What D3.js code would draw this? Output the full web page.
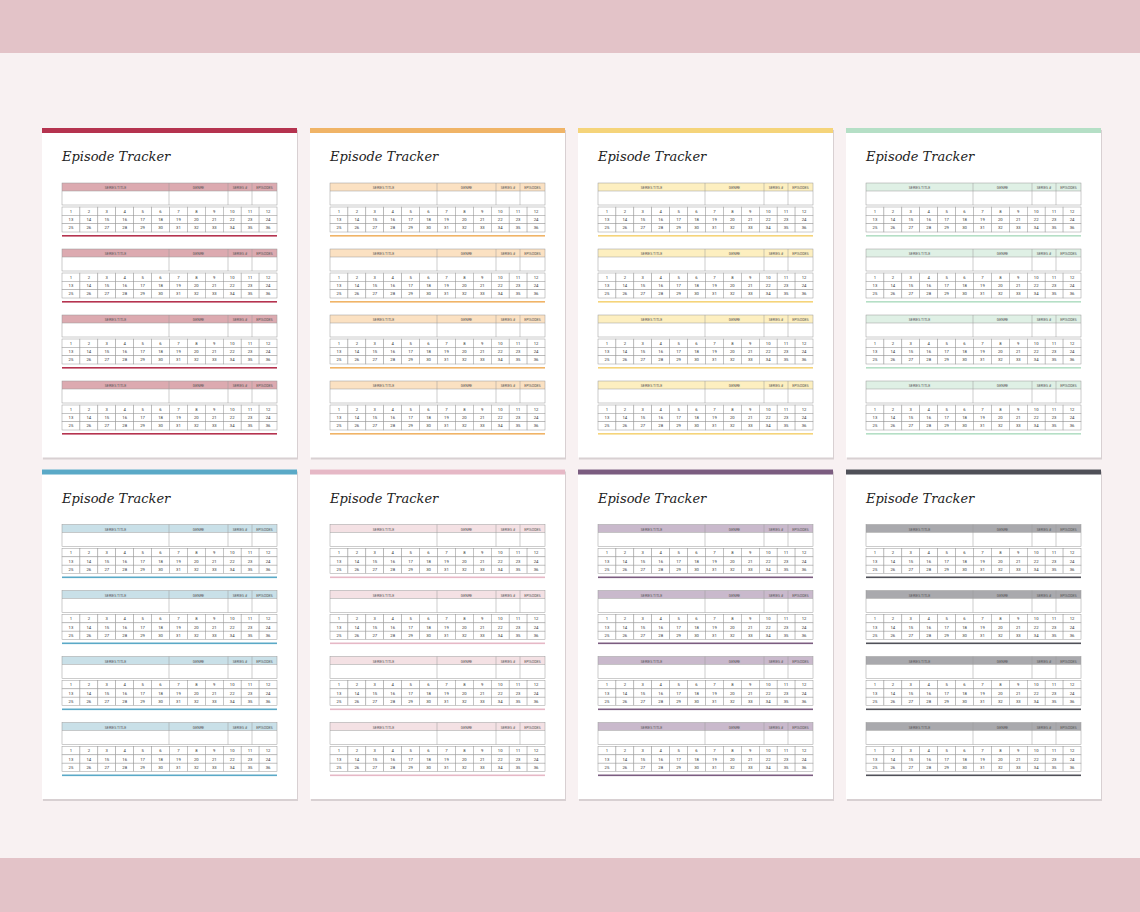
<!DOCTYPE html>
<html><head><meta charset="utf-8">
<script src="https://cdn.jsdelivr.net/npm/d3@7"></script>
<style>body{margin:0;background:#f8f1f2}</style></head>
<body><svg id="c" width="1140" height="912"></svg>
<script>
const themes=["red","orange","yellow","green","blue","pink","purple","gray"];
const topColors=["#b5334f","#f0b467","#f5d47a","#b5dfc6","#5aa9c7","#e6b8c6","#7b5c80","#4f5058"];
const headColors=["#dcaab0","#fbe1c2","#fdefc0","#dff0e5","#c9e0e8","#f4e1e4","#c9b9cc","#a9a9ad"];
const lineColors=["#b5334f","#f0b467","#f5d47a","#b5dfc6","#5aa9c7","#e6b8c6","#7b5c80","#4f5058"];
const headers=["SERIES TITLE","GENRE","SERIES #","EPISODES"];
const colBreaks=[0,107,166,190,215];
const episodes=d3.range(1,37);
const blocks=[0,1,2,3];

const svg=d3.select("#c");
svg.append("rect").attr("width",1140).attr("height",53).attr("fill","#e3c3c8");
svg.append("rect").attr("y",858).attr("width",1140).attr("height",54).attr("fill","#e3c3c8");

const px=d3.scaleBand().domain(d3.range(4)).range([42,1101]).paddingInner(13/268);
const py=d3.scaleBand().domain([0,1]).range([128,799]).paddingInner(12/341);
const by=d3.scaleLinear().domain([0,1]).range([55,121]);
const cx=d3.scaleBand().domain(d3.range(12)).range([0,215]);
const ry=d3.scaleBand().domain([0,1,2]).range([0,25]);

themes.forEach((t,i)=>{
  const g=svg.append("g").attr("transform",`translate(${px(i%4)},${py(Math.floor(i/4))})`);
  const W=px.bandwidth(),H=py.bandwidth();
  g.append("rect").attr("x",1).attr("y",2).attr("width",W).attr("height",H).attr("fill","#d8d0d2");
  g.append("rect").attr("width",W).attr("height",H).attr("fill","#fff");
  g.append("rect").attr("width",W).attr("height",5).attr("fill",topColors[i]);
  g.append("text").attr("x",20).attr("y",33).text("Episode  Tracker")
    .attr("font-family","DejaVu Serif").attr("font-style","italic").attr("font-size",13).attr("fill","#222");
  blocks.forEach(b=>{
    const bg=g.append("g").attr("transform",`translate(20,${by(b)})`);
    bg.append("rect").attr("width",215).attr("height",8).attr("fill",headColors[i]);
    bg.append("rect").attr("y",8).attr("width",215).attr("height",14).attr("fill","#fff");
    bg.append("rect").attr("width",215).attr("height",22).attr("fill","none").attr("stroke","#999").attr("stroke-width",0.5);
    bg.append("line").attr("x1",0).attr("x2",215).attr("y1",8).attr("y2",8).attr("stroke","#999").attr("stroke-width",0.5);
    headers.forEach((h,k)=>{
      if(k>0) bg.append("line").attr("x1",colBreaks[k]).attr("x2",colBreaks[k]).attr("y1",0).attr("y2",22).attr("stroke","#999").attr("stroke-width",0.5);
      bg.append("text").attr("x",(colBreaks[k]+colBreaks[k+1])/2).attr("y",6).attr("text-anchor","middle")
        .attr("font-family","Roboto").attr("font-size",3.6).attr("fill","#555").text(h);
    });
    const gg=bg.append("g").attr("transform","translate(0,24)");
    episodes.forEach((e,j)=>{
      const c=j%12,r=Math.floor(j/12);
      gg.append("rect").attr("x",cx(c)).attr("y",ry(r)).attr("width",cx.bandwidth()).attr("height",ry.bandwidth())
        .attr("fill","#fff").attr("stroke","#999").attr("stroke-width",0.5);
      gg.append("text").attr("x",cx(c)+cx.bandwidth()/2).attr("y",ry(r)+5.8).attr("text-anchor","middle")
        .attr("font-family","Roboto").attr("font-size",4.2).attr("fill","#333").text(e);
    });
    bg.append("rect").attr("y",52).attr("width",215).attr("height",1.6).attr("fill",lineColors[i]);
  });
});
</script></body></html>
